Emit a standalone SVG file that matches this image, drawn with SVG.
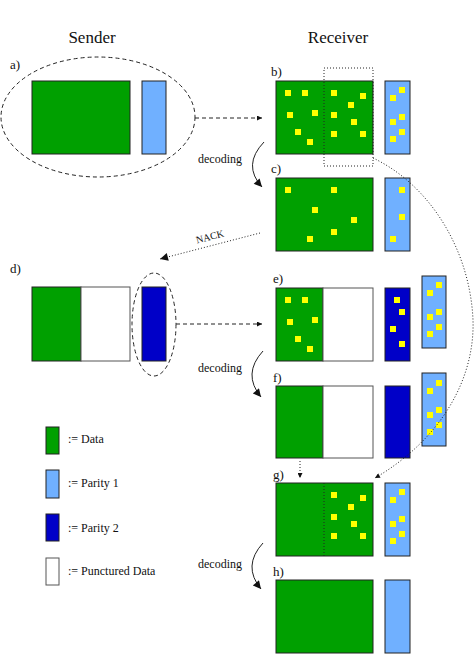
<svg xmlns="http://www.w3.org/2000/svg" width="474" height="654" viewBox="0 0 474 654">
<style>
text{font-family:"Liberation Serif","Times New Roman",serif;fill:#111}
.t{font-size:17px}
.l{font-size:13px}
.s{font-size:12px}
.g{fill:#00a000;stroke:#222;stroke-width:1}
.p1{fill:#70b0ff;stroke:#222;stroke-width:1}
.p2{fill:#0000c8;stroke:#222;stroke-width:1}
.w{fill:#fff;stroke:#555;stroke-width:1}
.y{fill:#ffff00}
.dash{fill:none;stroke:#222;stroke-width:1;stroke-dasharray:4 3}
.dot{fill:none;stroke:#222;stroke-width:1;stroke-dasharray:1 2}
.solid{fill:none;stroke:#222;stroke-width:1}
</style>
<defs>
<marker id="ah" viewBox="0 0 10 10" refX="10" refY="5" markerWidth="7" markerHeight="5" orient="auto" markerUnits="userSpaceOnUse"><path d="M0,0 L10,5 L0,10 z" fill="#111"/></marker>
<marker id="big" viewBox="0 0 10 10" refX="10" refY="5" markerWidth="12" markerHeight="8" orient="auto" markerUnits="userSpaceOnUse"><path d="M0,0 L10,5 L0,10 z" fill="#111"/></marker>
<g id="sqB">
<rect class="y" x="285" y="90" width="6" height="6"/><rect class="y" x="302" y="90" width="6" height="6"/>
<rect class="y" x="287" y="112" width="6" height="6"/><rect class="y" x="312" y="110" width="6" height="6"/>
<rect class="y" x="295" y="129" width="6" height="6"/><rect class="y" x="307" y="139" width="6" height="6"/>
</g>
<g id="sqR">
<rect class="y" x="331" y="90" width="6" height="6"/><rect class="y" x="360" y="93" width="6" height="6"/>
<rect class="y" x="348" y="102" width="6" height="6"/><rect class="y" x="331" y="112" width="6" height="6"/>
<rect class="y" x="351" y="119" width="6" height="6"/><rect class="y" x="331" y="131" width="6" height="6"/>
<rect class="y" x="360" y="131" width="6" height="6"/>
</g>
<g id="sqP">
<rect class="y" x="399" y="87" width="6" height="6"/><rect class="y" x="390" y="95" width="6" height="6"/>
<rect class="y" x="399" y="114" width="6" height="6"/><rect class="y" x="390" y="119" width="6" height="6"/>
<rect class="y" x="399" y="129" width="6" height="6"/><rect class="y" x="390" y="136" width="6" height="6"/>
</g>
</defs>

<text class="t" x="92" y="43" text-anchor="middle">Sender</text>
<text class="t" x="338" y="43" text-anchor="middle">Receiver</text>

<g id="a">
<text class="l" x="10" y="69">a)</text>
<ellipse class="dash" cx="98" cy="117" rx="97" ry="60"/>
<rect class="g" x="32" y="81" width="98" height="73"/>
<rect class="p1" x="142" y="81" width="24" height="73"/>
</g>

<g id="b">
<text class="l" x="271" y="76">b)</text>
<rect class="g" x="276" y="81" width="97" height="73"/>
<use href="#sqB"/><use href="#sqR"/>
<rect class="p1" x="385" y="81" width="25" height="73"/>
<use href="#sqP"/>
<rect class="dot" x="324" y="68" width="49" height="98"/>
</g>

<g id="c">
<text class="l" x="271" y="173">c)</text>
<rect class="g" x="276" y="178" width="97" height="73"/>
<rect class="y" x="285" y="187" width="6" height="6"/><rect class="y" x="331" y="187" width="6" height="6"/>
<rect class="y" x="312" y="207" width="6" height="6"/><rect class="y" x="351" y="217" width="6" height="6"/>
<rect class="y" x="331" y="229" width="6" height="6"/><rect class="y" x="307" y="236" width="6" height="6"/>
<rect class="p1" x="385" y="178" width="25" height="73"/>
<rect class="y" x="399" y="187" width="6" height="6"/><rect class="y" x="399" y="214" width="6" height="6"/>
<rect class="y" x="390" y="236" width="6" height="6"/>
</g>

<g id="d">
<text class="l" x="10" y="273">d)</text>
<rect class="g" x="32" y="287" width="49" height="74"/>
<rect class="w" x="81" y="287" width="49" height="74"/>
<rect class="p2" x="142" y="287" width="24" height="74"/>
<ellipse class="dash" cx="154" cy="324.5" rx="22" ry="51.5"/>
</g>

<g id="e">
<text class="l" x="273" y="283">e)</text>
<rect class="g" x="276" y="288" width="47" height="73"/>
<rect class="w" x="323" y="288" width="50" height="73"/>
<use href="#sqB" transform="translate(0,207)"/>
<rect class="p2" x="385" y="288" width="25" height="73"/>
<rect class="y" x="394" y="297" width="6" height="6"/><rect class="y" x="399" y="309" width="6" height="6"/>
<rect class="y" x="390" y="326" width="6" height="6"/><rect class="y" x="399" y="341" width="6" height="6"/>
<rect class="p1" x="422" y="276" width="24" height="72"/>
<use href="#sqP" transform="translate(37,195)"/>
</g>

<g id="f">
<text class="l" x="273" y="382">f)</text>
<rect class="g" x="276" y="386" width="47" height="72"/>
<rect class="w" x="323" y="386" width="50" height="72"/>
<rect class="p2" x="385" y="386" width="25" height="72"/>
<rect class="p1" x="422" y="373" width="24" height="73"/>
<use href="#sqP" transform="translate(37,293)"/>
</g>

<g id="g">
<text class="l" x="273" y="479">g)</text>
<rect class="g" x="276" y="483" width="97" height="73"/>
<line class="dot" x1="324" y1="483" x2="324" y2="556"/>
<use href="#sqR" transform="translate(0,402)"/>
<rect class="p1" x="385" y="483" width="25" height="73"/>
<use href="#sqP" transform="translate(0,402)"/>
</g>

<g id="h">
<text class="l" x="273" y="576">h)</text>
<rect class="g" x="276" y="580" width="97" height="73"/>
<rect class="p1" x="385" y="580" width="25" height="73"/>
</g>

<g id="legend">
<rect class="g" x="46" y="427" width="13" height="27"/>
<text class="s" x="68" y="443">:= Data</text>
<rect class="p1" x="46" y="470" width="13" height="28"/>
<text class="s" x="68" y="487">:= Parity 1</text>
<rect class="p2" x="46" y="514" width="13" height="27"/>
<text class="s" x="68" y="532">:= Parity 2</text>
<rect class="w" x="46" y="558" width="13" height="27"/>
<text class="s" x="68" y="575">:= Punctured Data</text>
</g>

<g id="connectors">
<line class="dash" x1="195" y1="118" x2="262" y2="118" marker-end="url(#ah)"/>
<line class="dash" x1="176" y1="324" x2="262" y2="324" marker-end="url(#ah)"/>
<path class="solid" d="M264,142 Q242,165 262,187" marker-end="url(#big)"/>
<text class="s" x="198" y="163">decoding</text>
<path class="solid" d="M263,351 Q242,374 261,397" marker-end="url(#big)"/>
<text class="s" x="198" y="372">decoding</text>
<path class="solid" d="M263,543 Q242,566 261,589" marker-end="url(#big)"/>
<text class="s" x="198" y="568">decoding</text>
<line class="dot" x1="260" y1="233" x2="160" y2="259" marker-end="url(#big)"/>
<text x="210" y="240" font-size="10" text-anchor="middle" transform="rotate(-14.6 210 237)">NACK</text>
<line class="dot" x1="300" y1="461" x2="300" y2="478" marker-end="url(#ah)"/>
<path class="dot" d="M373,158 C430,185 470,250 473,320 C475,380 440,440 375,478" marker-end="url(#ah)"/>
</g>
</svg>
